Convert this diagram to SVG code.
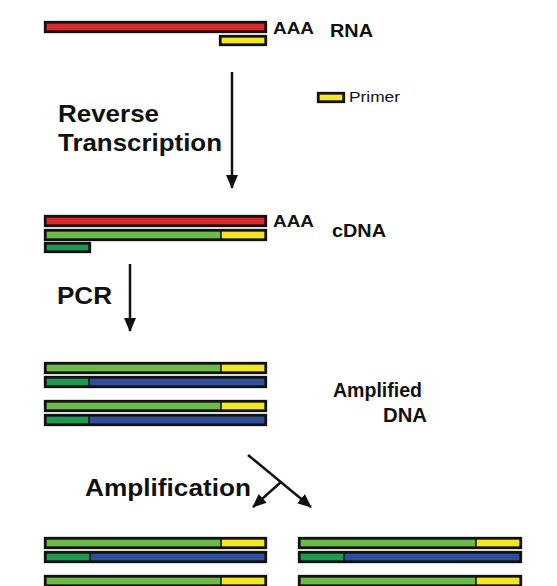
<svg xmlns="http://www.w3.org/2000/svg" width="557" height="586" viewBox="0 0 557 586">
<style>
.o{fill:none;stroke:#111;stroke-width:2.8}
.red{fill:#da2a2e}
.yel{fill:#f2e627}
.lg{fill:#6cba4a}
.dg{fill:#1e9850}
.bl{fill:#2f4f9b}
.sp{stroke:#111;stroke-width:1.5}
.t{font-family:"Liberation Sans",Arial,sans-serif;font-weight:bold;fill:#111}
.n{font-family:"Liberation Sans",Arial,sans-serif;fill:#111}
.c{stroke:#111;stroke-width:2.5;fill:none;marker-end:url(#ah)}
</style>
<defs>
<marker id="ah" viewBox="0 0 14 12" refX="13" refY="6" markerWidth="14" markerHeight="12" markerUnits="userSpaceOnUse" orient="auto">
<path d="M0,0 L14,6 L0,12 z" fill="#111"/>
</marker>
</defs>
<rect width="557" height="586" fill="#fff"/>

<g id="rna">
<rect class="red" x="45" y="22" width="221" height="10"/>
<rect class="o" x="45.25" y="22.25" width="220.5" height="9.5"/>
<rect class="yel" x="220" y="36" width="46" height="9"/>
<rect class="o" x="220.25" y="36.25" width="45.5" height="8.5"/>
<text class="t" x="273" y="34" font-size="17" textLength="41" lengthAdjust="spacingAndGlyphs">AAA</text>
<text class="t" x="330" y="37" font-size="19" textLength="43" lengthAdjust="spacingAndGlyphs">RNA</text>
</g>

<g id="legend">
<rect class="yel" x="318" y="93" width="26" height="9"/>
<rect class="o" x="318.25" y="93.25" width="25.5" height="8.5"/>
<text class="n" x="349" y="102" font-size="14" textLength="51" lengthAdjust="spacingAndGlyphs">Primer</text>
</g>

<g id="rt-label">
<text class="t" x="58" y="122" font-size="24" textLength="101" lengthAdjust="spacingAndGlyphs">Reverse</text>
<text class="t" x="58" y="151" font-size="24" textLength="164" lengthAdjust="spacingAndGlyphs">Transcription</text>
</g>

<g id="cdna">
<rect class="red" x="45" y="216" width="221" height="10"/>
<rect class="o" x="45.25" y="216.25" width="220.5" height="9.5"/>
<rect class="lg" x="45" y="230" width="176" height="10"/>
<rect class="yel" x="221" y="230" width="45" height="10"/>
<line class="sp" x1="221" y1="230" x2="221" y2="240"/>
<rect class="o" x="45.25" y="230.25" width="220.5" height="9.5"/>
<rect class="dg" x="45" y="243" width="45" height="9"/>
<rect class="o" x="45.25" y="243.25" width="44.5" height="8.5"/>
<text class="t" x="273" y="227" font-size="17" textLength="41" lengthAdjust="spacingAndGlyphs">AAA</text>
<text class="t" x="332" y="237" font-size="19" textLength="54" lengthAdjust="spacingAndGlyphs">cDNA</text>
</g>

<g id="pcr-label">
<text class="t" x="57" y="304" font-size="23" textLength="55" lengthAdjust="spacingAndGlyphs">PCR</text>
</g>

<g id="amplified">
<rect class="lg" x="45" y="363" width="176" height="10"/>
<rect class="yel" x="221" y="363" width="45" height="10"/>
<line class="sp" x1="221" y1="363" x2="221" y2="373"/>
<rect class="o" x="45.25" y="363.25" width="220.5" height="9.5"/>
<rect class="dg" x="45" y="377" width="44" height="10"/>
<rect class="bl" x="89" y="377" width="177" height="10"/>
<line class="sp" x1="89" y1="377" x2="89" y2="387"/>
<rect class="o" x="45.25" y="377.25" width="220.5" height="9.5"/>
<rect class="lg" x="45" y="401" width="176" height="10"/>
<rect class="yel" x="221" y="401" width="45" height="10"/>
<line class="sp" x1="221" y1="401" x2="221" y2="411"/>
<rect class="o" x="45.25" y="401.25" width="220.5" height="9.5"/>
<rect class="dg" x="45" y="415" width="44" height="10"/>
<rect class="bl" x="89" y="415" width="177" height="10"/>
<line class="sp" x1="89" y1="415" x2="89" y2="425"/>
<rect class="o" x="45.25" y="415.25" width="220.5" height="9.5"/>
<text class="t" x="333" y="397" font-size="20" textLength="89" lengthAdjust="spacingAndGlyphs">Amplified</text>
<text class="t" x="383" y="422" font-size="20" textLength="44" lengthAdjust="spacingAndGlyphs">DNA</text>
</g>

<g id="amp-label">
<text class="t" x="85" y="496" font-size="24" textLength="166" lengthAdjust="spacingAndGlyphs">Amplification</text>
</g>

<g id="left-copy">
<rect class="lg" x="45" y="538" width="176" height="10"/>
<rect class="yel" x="221" y="538" width="45" height="10"/>
<line class="sp" x1="221" y1="538" x2="221" y2="548"/>
<rect class="o" x="45.25" y="538.25" width="220.5" height="9.5"/>
<rect class="dg" x="45" y="552" width="45" height="10"/>
<rect class="bl" x="90" y="552" width="176" height="10"/>
<line class="sp" x1="90" y1="552" x2="90" y2="562"/>
<rect class="o" x="45.25" y="552.25" width="220.5" height="9.5"/>
<rect class="lg" x="45" y="576" width="176" height="10"/>
<rect class="yel" x="221" y="576" width="45" height="10"/>
<line class="sp" x1="221" y1="576" x2="221" y2="586"/>
<rect class="o" x="45.25" y="576.25" width="220.5" height="9.5"/>
</g>

<g id="right-copy">
<rect class="lg" x="299" y="538" width="177" height="10"/>
<rect class="yel" x="476" y="538" width="45" height="10"/>
<line class="sp" x1="476" y1="538" x2="476" y2="548"/>
<rect class="o" x="299.25" y="538.25" width="221.5" height="9.5"/>
<rect class="dg" x="299" y="552" width="45" height="10"/>
<rect class="bl" x="344" y="552" width="177" height="10"/>
<line class="sp" x1="344" y1="552" x2="344" y2="562"/>
<rect class="o" x="299.25" y="552.25" width="221.5" height="9.5"/>
<rect class="lg" x="299" y="576" width="177" height="10"/>
<rect class="yel" x="476" y="576" width="45" height="10"/>
<line class="sp" x1="476" y1="576" x2="476" y2="586"/>
<rect class="o" x="299.25" y="576.25" width="221.5" height="9.5"/>
</g>

<g id="connectors">
<line class="c" x1="232" y1="72" x2="232" y2="188"/>
<line class="c" x1="130" y1="264" x2="130" y2="331"/>
<line class="c" x1="248" y1="455" x2="311" y2="507"/>
<line class="c" x1="281" y1="482" x2="253" y2="507"/>
</g>
</svg>
